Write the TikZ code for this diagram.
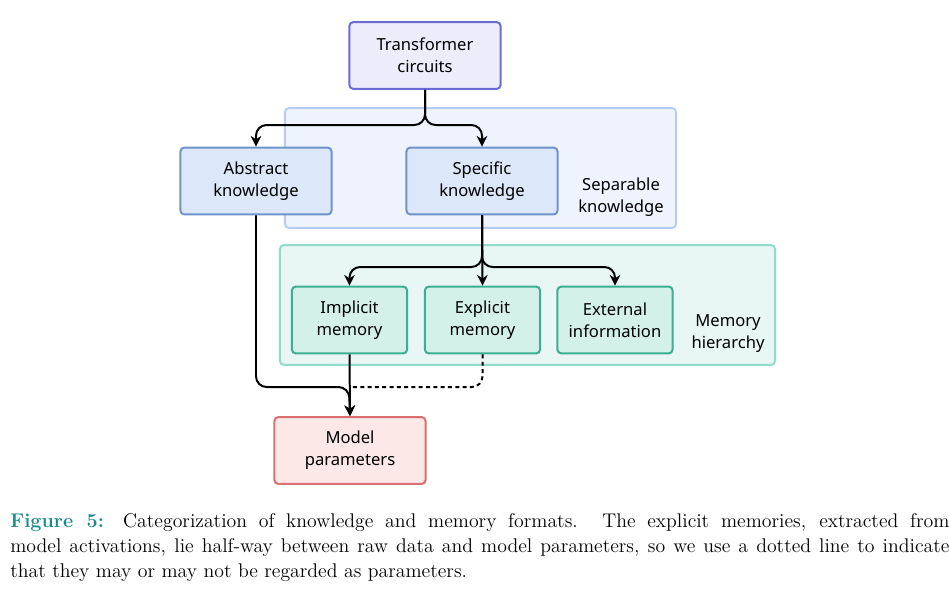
\documentclass[tikz,border=0pt]{standalone}
\usepackage{fontspec}
\newfontfamily\boxfont{Noto Sans}
\usetikzlibrary{arrows.meta,positioning,calc}
\definecolor{tcfill}{HTML}{ECECFB}\definecolor{tcdraw}{HTML}{6B6BD6}
\definecolor{sepfill}{HTML}{EEF3FD}\definecolor{sepdraw}{HTML}{B5CDF5}
\definecolor{knfill}{HTML}{DCE7FA}\definecolor{kndraw}{HTML}{6F93C9}
\definecolor{memfill}{HTML}{E8F7F3}\definecolor{memdraw}{HTML}{90DCCB}
\definecolor{mbfill}{HTML}{D3F1E9}\definecolor{mbdraw}{HTML}{3CAE91}
\definecolor{mpfill}{HTML}{FDE8E8}\definecolor{mpdraw}{HTML}{D9706F}
\definecolor{figteal}{HTML}{1A8A8A}
\begin{document}
\begin{tikzpicture}[x=0.02646cm, y=-0.02646cm,
    box/.style={rectangle, rounded corners=3pt, line width=1.5pt, minimum width=4cm,
      minimum height=1.77cm, align=center, font=\boxfont\fontsize{12.5}{16.5}\selectfont},
    smallbox/.style={box, minimum width=3.05cm},
    group/.style={rectangle, rounded corners=3pt, line width=1.5pt},
    lbl/.style={align=center, font=\boxfont\fontsize{12.5}{16.5}\selectfont},
    arrow/.style={-{Stealth[length=8pt,width=8pt]}, line width=1.5pt, rounded corners=8pt}
]
\useasboundingbox (0,0) rectangle (949,594);
% groups
\node[group, fill=sepfill, draw=sepdraw, minimum width=10.35cm, minimum height=3.17cm] (sep) at (480.5,168) {};
\node[group, fill=memfill, draw=memdraw, minimum width=13.1cm, minimum height=3.17cm] (mem) at (527.5,305) {};
\node[lbl] (seplbl) at (621,197) {Separable\\knowledge};
\node[lbl] (memlbl) at (728,334) {Memory\\hierarchy};
% boxes
\node[box, fill=tcfill, draw=tcdraw] (tc) at (425,55.5) {Transformer\\circuits};
\node[box, fill=knfill, draw=kndraw] (ak) at (256,181) {Abstract\\knowledge};
\node[box, fill=knfill, draw=kndraw] (sk) at (482,181) {Specific\\knowledge};
\node[smallbox, fill=mbfill, draw=mbdraw] (im) at (349.5,320) {Implicit\\memory};
\node[smallbox, fill=mbfill, draw=mbdraw] (em) at (482.5,320) {Explicit\\memory};
\node[smallbox, fill=mbfill, draw=mbdraw] (ei) at (615,320) {External\\information};
\node[box, fill=mpfill, draw=mpdraw] (mp) at (350,450.5) {Model\\parameters};
\coordinate (split1) at (425,125);
\coordinate (split2) at (482,267);
\coordinate (join) at (349,387);
% connectors
\draw[arrow] (tc.south) -- (split1) -| (ak.north);
\draw[arrow] (tc.south) -- (split1) -| (sk.north);
\draw[arrow] (sk.south) -- (split2) -| (im.north);
\draw[arrow] (sk.south) -- (em.north);
\draw[arrow] (sk.south) -- (split2) -| (ei.north);
\draw[arrow] (ak.south) |- (join) -- (mp.north);
\draw[arrow] (im.south) -- (mp.north);
\draw[line width=1.5pt, dash pattern=on 3pt off 2.5pt, rounded corners=8pt] (em.south) |- (join);
% caption
\node[anchor=north west, text width=24.85cm, align=justify, inner sep=0pt,
  font=\fontsize{14.9}{18.8}\selectfont] (cap) at (10,513)
  {\textcolor{figteal}{\textbf{Figure 5:}} Categorization of knowledge and memory formats. The explicit memories, extracted from\linebreak model activations, lie half-way between raw data and model parameters, so we use a dotted line to indicate\linebreak that they may or may not be regarded as parameters.};
\end{tikzpicture}
\end{document}
